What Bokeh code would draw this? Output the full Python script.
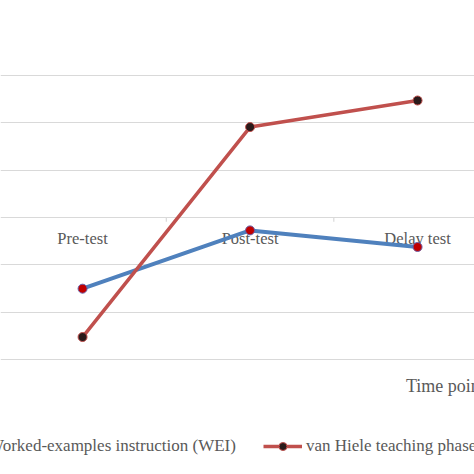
from bokeh.plotting import figure
from bokeh.models import Range1d, FixedTicker, Legend, LegendItem, Label, ColumnDataSource
from bokeh.core.properties import value
from bokeh.embed import file_html
from bokeh.resources import INLINE

categories = ["Pre-test", "Post-test", "Delay test"]
wei_values = [-1.50, -0.27, -0.62]
vh_values = [-2.52, 1.91, 2.47]
y_ticks = [-3, -2, -1, 0, 1, 2, 3]
axis_title = "Time point"
wei_name = "Worked-examples instruction (WEI)"
vh_name = "van Hiele teaching phases"

xs = list(range(len(categories)))
FONT_NAME = "Liberation Serif"
TEXT_COLOR = "#595959"
GRID_COLOR = "#d9d9d9"

p = figure(width=474, height=474, output_backend="svg", toolbar_location=None,
           x_range=Range1d(-0.49, 2.34), y_range=Range1d(-5.42, 4.58),
           min_border_left=0, min_border_right=0, min_border_top=0, min_border_bottom=0)
p.outline_line_color = None
p.xaxis.visible = False
p.yaxis.visible = False
p.xgrid.visible = False
p.yaxis.ticker = FixedTicker(ticks=y_ticks)
p.ygrid.grid_line_color = GRID_COLOR
p.ygrid.grid_line_width = 1.2

# category-separating tick marks on the horizontal axis
bounds = [x + 0.5 for x in xs[:-1]]
p.segment(x0=bounds, x1=bounds, y0=[0] * len(bounds), y1=[-0.09] * len(bounds),
          line_color=GRID_COLOR, line_width=1.2)

# category labels under the axis line
p.text(x=xs, y=[0] * len(xs), text=categories, text_font=value(FONT_NAME), text_font_size="16.5px",
       text_color=TEXT_COLOR, text_align="center", text_baseline="middle", y_offset=21)

src_w = ColumnDataSource(dict(x=xs, y=wei_values))
src_v = ColumnDataSource(dict(x=xs, y=vh_values))

lw = p.line("x", "y", source=src_w, line_color="#4f81bd", line_width=4)
sw = p.scatter("x", "y", source=src_w, size=9, fill_color="#c00000", line_color="#6a5fa8", line_width=1)
lv = p.line("x", "y", source=src_v, line_color="#c0504d", line_width=3.5)
sv = p.scatter("x", "y", source=src_v, size=9, fill_color="#2a1a1a", line_color="#c0504d", line_width=1)

p.add_layout(Label(x=405.5, y=474 - 385, x_units="screen", y_units="screen", text=axis_title,
                   text_font=FONT_NAME, text_font_size="18px", text_color=TEXT_COLOR,
                   text_baseline="middle"))

legend = Legend(items=[LegendItem(label=wei_name, renderers=[lw, sw]),
                       LegendItem(label=vh_name, renderers=[lv, sv])],
                orientation="horizontal", location=(-55, 18),
                label_text_font=FONT_NAME, label_text_font_size="17px", label_text_color=TEXT_COLOR,
                glyph_width=39, glyph_height=20, label_standoff=4, spacing=27,
                padding=0, margin=0, border_line_alpha=0, background_fill_alpha=0)
p.add_layout(legend, "center")

open("out.html", "w").write(file_html(p, INLINE))
